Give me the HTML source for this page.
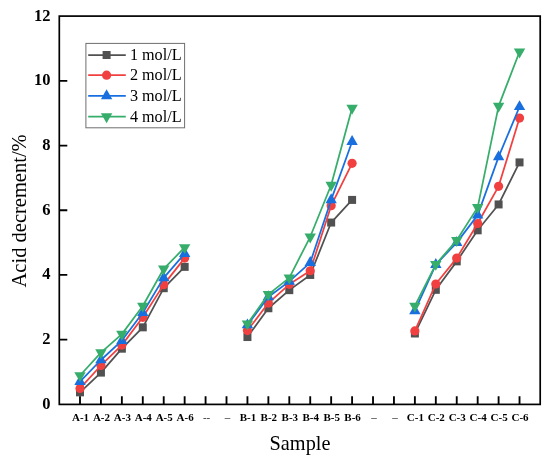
<!DOCTYPE html>
<html><head><meta charset="utf-8"><title>Acid decrement</title>
<style>html,body{margin:0;padding:0;background:#fff}svg{display:block}text{font-family:"Liberation Serif","Times New Roman",serif;fill:#000}</style></head>
<body>
<svg width="550" height="459" viewBox="0 0 550 459">
<rect width="550" height="459" fill="#fff"/>
<polyline points="80.00,392.33 100.93,372.61 121.86,348.68 142.79,327.33 163.72,288.20 184.65,266.86" fill="none" stroke="#515151" stroke-width="1.75" stroke-linejoin="round"/>
<polyline points="247.44,337.03 268.37,308.25 289.30,290.14 310.23,274.94 331.16,222.55 352.09,199.91" fill="none" stroke="#515151" stroke-width="1.75" stroke-linejoin="round"/>
<polyline points="414.88,333.48 435.81,289.82 456.74,261.36 477.67,230.31 498.60,204.44 519.53,162.40" fill="none" stroke="#515151" stroke-width="1.75" stroke-linejoin="round"/>
<rect x="76.00" y="388.33" width="8.0" height="8.0" fill="#515151"/>
<rect x="96.93" y="368.61" width="8.0" height="8.0" fill="#515151"/>
<rect x="117.86" y="344.68" width="8.0" height="8.0" fill="#515151"/>
<rect x="138.79" y="323.33" width="8.0" height="8.0" fill="#515151"/>
<rect x="159.72" y="284.20" width="8.0" height="8.0" fill="#515151"/>
<rect x="180.65" y="262.86" width="8.0" height="8.0" fill="#515151"/>
<rect x="243.44" y="333.03" width="8.0" height="8.0" fill="#515151"/>
<rect x="264.37" y="304.25" width="8.0" height="8.0" fill="#515151"/>
<rect x="285.30" y="286.14" width="8.0" height="8.0" fill="#515151"/>
<rect x="306.23" y="270.94" width="8.0" height="8.0" fill="#515151"/>
<rect x="327.16" y="218.55" width="8.0" height="8.0" fill="#515151"/>
<rect x="348.09" y="195.91" width="8.0" height="8.0" fill="#515151"/>
<rect x="410.88" y="329.48" width="8.0" height="8.0" fill="#515151"/>
<rect x="431.81" y="285.82" width="8.0" height="8.0" fill="#515151"/>
<rect x="452.74" y="257.36" width="8.0" height="8.0" fill="#515151"/>
<rect x="473.67" y="226.31" width="8.0" height="8.0" fill="#515151"/>
<rect x="494.60" y="200.44" width="8.0" height="8.0" fill="#515151"/>
<rect x="515.53" y="158.40" width="8.0" height="8.0" fill="#515151"/>
<polyline points="80.00,388.45 100.93,365.49 121.86,345.12 142.79,317.31 163.72,284.64 184.65,258.12" fill="none" stroke="#F14040" stroke-width="1.75" stroke-linejoin="round"/>
<polyline points="247.44,330.56 268.37,303.08 289.30,284.32 310.23,270.74 331.16,205.73 352.09,163.37" fill="none" stroke="#F14040" stroke-width="1.75" stroke-linejoin="round"/>
<polyline points="414.88,330.89 435.81,284.00 456.74,258.12 477.67,223.52 498.60,186.33 519.53,118.09" fill="none" stroke="#F14040" stroke-width="1.75" stroke-linejoin="round"/>
<circle cx="80.00" cy="388.45" r="4.6" fill="#F14040"/>
<circle cx="100.93" cy="365.49" r="4.6" fill="#F14040"/>
<circle cx="121.86" cy="345.12" r="4.6" fill="#F14040"/>
<circle cx="142.79" cy="317.31" r="4.6" fill="#F14040"/>
<circle cx="163.72" cy="284.64" r="4.6" fill="#F14040"/>
<circle cx="184.65" cy="258.12" r="4.6" fill="#F14040"/>
<circle cx="247.44" cy="330.56" r="4.6" fill="#F14040"/>
<circle cx="268.37" cy="303.08" r="4.6" fill="#F14040"/>
<circle cx="289.30" cy="284.32" r="4.6" fill="#F14040"/>
<circle cx="310.23" cy="270.74" r="4.6" fill="#F14040"/>
<circle cx="331.16" cy="205.73" r="4.6" fill="#F14040"/>
<circle cx="352.09" cy="163.37" r="4.6" fill="#F14040"/>
<circle cx="414.88" cy="330.89" r="4.6" fill="#F14040"/>
<circle cx="435.81" cy="284.00" r="4.6" fill="#F14040"/>
<circle cx="456.74" cy="258.12" r="4.6" fill="#F14040"/>
<circle cx="477.67" cy="223.52" r="4.6" fill="#F14040"/>
<circle cx="498.60" cy="186.33" r="4.6" fill="#F14040"/>
<circle cx="519.53" cy="118.09" r="4.6" fill="#F14040"/>
<polyline points="80.00,381.66 100.93,359.99 121.86,340.59 142.79,312.78 163.72,277.85 184.65,253.60" fill="none" stroke="#1A6FDF" stroke-width="1.75" stroke-linejoin="round"/>
<polyline points="247.44,325.07 268.37,296.93 289.30,281.41 310.23,262.65 331.16,199.91 352.09,141.70" fill="none" stroke="#1A6FDF" stroke-width="1.75" stroke-linejoin="round"/>
<polyline points="414.88,310.84 435.81,264.59 456.74,242.60 477.67,215.11 498.60,156.90 519.53,106.77" fill="none" stroke="#1A6FDF" stroke-width="1.75" stroke-linejoin="round"/>
<polygon points="74.30,384.96 85.70,384.96 80.00,375.06" fill="#1A6FDF"/>
<polygon points="95.23,363.29 106.63,363.29 100.93,353.39" fill="#1A6FDF"/>
<polygon points="116.16,343.89 127.56,343.89 121.86,333.99" fill="#1A6FDF"/>
<polygon points="137.09,316.08 148.49,316.08 142.79,306.18" fill="#1A6FDF"/>
<polygon points="158.02,281.15 169.42,281.15 163.72,271.25" fill="#1A6FDF"/>
<polygon points="178.95,256.90 190.35,256.90 184.65,247.00" fill="#1A6FDF"/>
<polygon points="241.74,328.37 253.14,328.37 247.44,318.47" fill="#1A6FDF"/>
<polygon points="262.67,300.23 274.07,300.23 268.37,290.33" fill="#1A6FDF"/>
<polygon points="283.60,284.71 295.00,284.71 289.30,274.81" fill="#1A6FDF"/>
<polygon points="304.53,265.95 315.93,265.95 310.23,256.05" fill="#1A6FDF"/>
<polygon points="325.46,203.21 336.86,203.21 331.16,193.31" fill="#1A6FDF"/>
<polygon points="346.39,145.00 357.79,145.00 352.09,135.10" fill="#1A6FDF"/>
<polygon points="409.18,314.14 420.58,314.14 414.88,304.24" fill="#1A6FDF"/>
<polygon points="430.11,267.89 441.51,267.89 435.81,257.99" fill="#1A6FDF"/>
<polygon points="451.04,245.90 462.44,245.90 456.74,236.00" fill="#1A6FDF"/>
<polygon points="471.97,218.41 483.37,218.41 477.67,208.51" fill="#1A6FDF"/>
<polygon points="492.90,160.20 504.30,160.20 498.60,150.30" fill="#1A6FDF"/>
<polygon points="513.83,110.07 525.23,110.07 519.53,100.17" fill="#1A6FDF"/>
<polyline points="80.00,375.52 100.93,352.56 121.86,334.12 142.79,305.99 163.72,268.80 184.65,247.45" fill="none" stroke="#37AD6B" stroke-width="1.75" stroke-linejoin="round"/>
<polyline points="247.44,323.77 268.37,294.34 289.30,277.85 310.23,236.78 331.16,185.03 352.09,108.07" fill="none" stroke="#37AD6B" stroke-width="1.75" stroke-linejoin="round"/>
<polyline points="414.88,305.99 435.81,264.27 456.74,240.34 477.67,207.35 498.60,106.13 519.53,51.79" fill="none" stroke="#37AD6B" stroke-width="1.75" stroke-linejoin="round"/>
<polygon points="74.30,372.22 85.70,372.22 80.00,382.12" fill="#37AD6B"/>
<polygon points="95.23,349.26 106.63,349.26 100.93,359.16" fill="#37AD6B"/>
<polygon points="116.16,330.82 127.56,330.82 121.86,340.72" fill="#37AD6B"/>
<polygon points="137.09,302.69 148.49,302.69 142.79,312.59" fill="#37AD6B"/>
<polygon points="158.02,265.50 169.42,265.50 163.72,275.40" fill="#37AD6B"/>
<polygon points="178.95,244.15 190.35,244.15 184.65,254.05" fill="#37AD6B"/>
<polygon points="241.74,320.47 253.14,320.47 247.44,330.37" fill="#37AD6B"/>
<polygon points="262.67,291.04 274.07,291.04 268.37,300.94" fill="#37AD6B"/>
<polygon points="283.60,274.55 295.00,274.55 289.30,284.45" fill="#37AD6B"/>
<polygon points="304.53,233.48 315.93,233.48 310.23,243.38" fill="#37AD6B"/>
<polygon points="325.46,181.73 336.86,181.73 331.16,191.63" fill="#37AD6B"/>
<polygon points="346.39,104.77 357.79,104.77 352.09,114.67" fill="#37AD6B"/>
<polygon points="409.18,302.69 420.58,302.69 414.88,312.59" fill="#37AD6B"/>
<polygon points="430.11,260.97 441.51,260.97 435.81,270.87" fill="#37AD6B"/>
<polygon points="451.04,237.04 462.44,237.04 456.74,246.94" fill="#37AD6B"/>
<polygon points="471.97,204.05 483.37,204.05 477.67,213.95" fill="#37AD6B"/>
<polygon points="492.90,102.83 504.30,102.83 498.60,112.73" fill="#37AD6B"/>
<polygon points="513.83,48.49 525.23,48.49 519.53,58.39" fill="#37AD6B"/>
<rect x="59.3" y="16.1" width="480.90" height="388.30" fill="none" stroke="#000" stroke-width="1.7"/>
<path d="M80.00,404.4V396.2M100.93,404.4V396.2M121.86,404.4V396.2M142.79,404.4V396.2M163.72,404.4V396.2M184.65,404.4V396.2M205.58,404.4V396.2M226.51,404.4V396.2M247.44,404.4V396.2M268.37,404.4V396.2M289.30,404.4V396.2M310.23,404.4V396.2M331.16,404.4V396.2M352.09,404.4V396.2M373.02,404.4V396.2M393.95,404.4V396.2M414.88,404.4V396.2M435.81,404.4V396.2M456.74,404.4V396.2M477.67,404.4V396.2M498.60,404.4V396.2M519.53,404.4V396.2M59.3,339.62H67.3M59.3,274.94H67.3M59.3,210.26H67.3M59.3,145.58H67.3M59.3,80.90H67.3" stroke="#000" stroke-width="1.85" fill="none"/>
<text x="50.5" y="408.80" font-size="16.5" font-weight="bold" text-anchor="end">0</text>
<text x="50.5" y="344.12" font-size="16.5" font-weight="bold" text-anchor="end">2</text>
<text x="50.5" y="279.44" font-size="16.5" font-weight="bold" text-anchor="end">4</text>
<text x="50.5" y="214.76" font-size="16.5" font-weight="bold" text-anchor="end">6</text>
<text x="50.5" y="150.08" font-size="16.5" font-weight="bold" text-anchor="end">8</text>
<text x="50.5" y="85.40" font-size="16.5" font-weight="bold" text-anchor="end">10</text>
<text x="50.5" y="20.72" font-size="16.5" font-weight="bold" text-anchor="end">12</text>
<text x="80.50" y="421.3" font-size="11" font-weight="bold" text-anchor="middle">A-1</text>
<text x="101.43" y="421.3" font-size="11" font-weight="bold" text-anchor="middle">A-2</text>
<text x="122.36" y="421.3" font-size="11" font-weight="bold" text-anchor="middle">A-3</text>
<text x="143.29" y="421.3" font-size="11" font-weight="bold" text-anchor="middle">A-4</text>
<text x="164.22" y="421.3" font-size="11" font-weight="bold" text-anchor="middle">A-5</text>
<text x="185.15" y="421.3" font-size="11" font-weight="bold" text-anchor="middle">A-6</text>
<text x="206.58" y="421.0" font-size="11" font-weight="bold" text-anchor="middle" fill="#444" style="fill:#444">--</text>
<text x="227.51" y="421.0" font-size="11" font-weight="bold" text-anchor="middle" fill="#444" style="fill:#444">–</text>
<text x="247.94" y="421.3" font-size="11" font-weight="bold" text-anchor="middle">B-1</text>
<text x="268.87" y="421.3" font-size="11" font-weight="bold" text-anchor="middle">B-2</text>
<text x="289.80" y="421.3" font-size="11" font-weight="bold" text-anchor="middle">B-3</text>
<text x="310.73" y="421.3" font-size="11" font-weight="bold" text-anchor="middle">B-4</text>
<text x="331.66" y="421.3" font-size="11" font-weight="bold" text-anchor="middle">B-5</text>
<text x="352.59" y="421.3" font-size="11" font-weight="bold" text-anchor="middle">B-6</text>
<text x="374.02" y="421.0" font-size="11" font-weight="bold" text-anchor="middle" fill="#444" style="fill:#444">–</text>
<text x="394.95" y="421.0" font-size="11" font-weight="bold" text-anchor="middle" fill="#444" style="fill:#444">–</text>
<text x="415.38" y="421.3" font-size="11" font-weight="bold" text-anchor="middle">C-1</text>
<text x="436.31" y="421.3" font-size="11" font-weight="bold" text-anchor="middle">C-2</text>
<text x="457.24" y="421.3" font-size="11" font-weight="bold" text-anchor="middle">C-3</text>
<text x="478.17" y="421.3" font-size="11" font-weight="bold" text-anchor="middle">C-4</text>
<text x="499.10" y="421.3" font-size="11" font-weight="bold" text-anchor="middle">C-5</text>
<text x="520.03" y="421.3" font-size="11" font-weight="bold" text-anchor="middle">C-6</text>
<text x="300" y="449.8" font-size="20.3" text-anchor="middle">Sample</text>
<text transform="translate(25.5,210.9) rotate(-90)" font-size="20.5" text-anchor="middle">Acid decrement/%</text>
<rect x="85.9" y="43.4" width="98.7" height="84.4" fill="#fff" stroke="#6e6e6e" stroke-width="1"/>
<line x1="88.2" y1="55.0" x2="125.8" y2="55.0" stroke="#515151" stroke-width="1.75"/>
<rect x="102.60" y="51.00" width="8.0" height="8.0" fill="#515151"/>
<text x="129.9" y="60.00" font-size="16.2">1 mol/L</text>
<line x1="88.2" y1="75.2" x2="125.8" y2="75.2" stroke="#F14040" stroke-width="1.75"/>
<circle cx="106.60" cy="75.20" r="4.6" fill="#F14040"/>
<text x="129.9" y="80.20" font-size="16.2">2 mol/L</text>
<line x1="88.2" y1="95.9" x2="125.8" y2="95.9" stroke="#1A6FDF" stroke-width="1.75"/>
<polygon points="100.90,99.20 112.30,99.20 106.60,89.30" fill="#1A6FDF"/>
<text x="129.9" y="100.90" font-size="16.2">3 mol/L</text>
<line x1="88.2" y1="116.6" x2="125.8" y2="116.6" stroke="#37AD6B" stroke-width="1.75"/>
<polygon points="100.90,113.30 112.30,113.30 106.60,123.20" fill="#37AD6B"/>
<text x="129.9" y="121.60" font-size="16.2">4 mol/L</text>
</svg>
</body></html>
